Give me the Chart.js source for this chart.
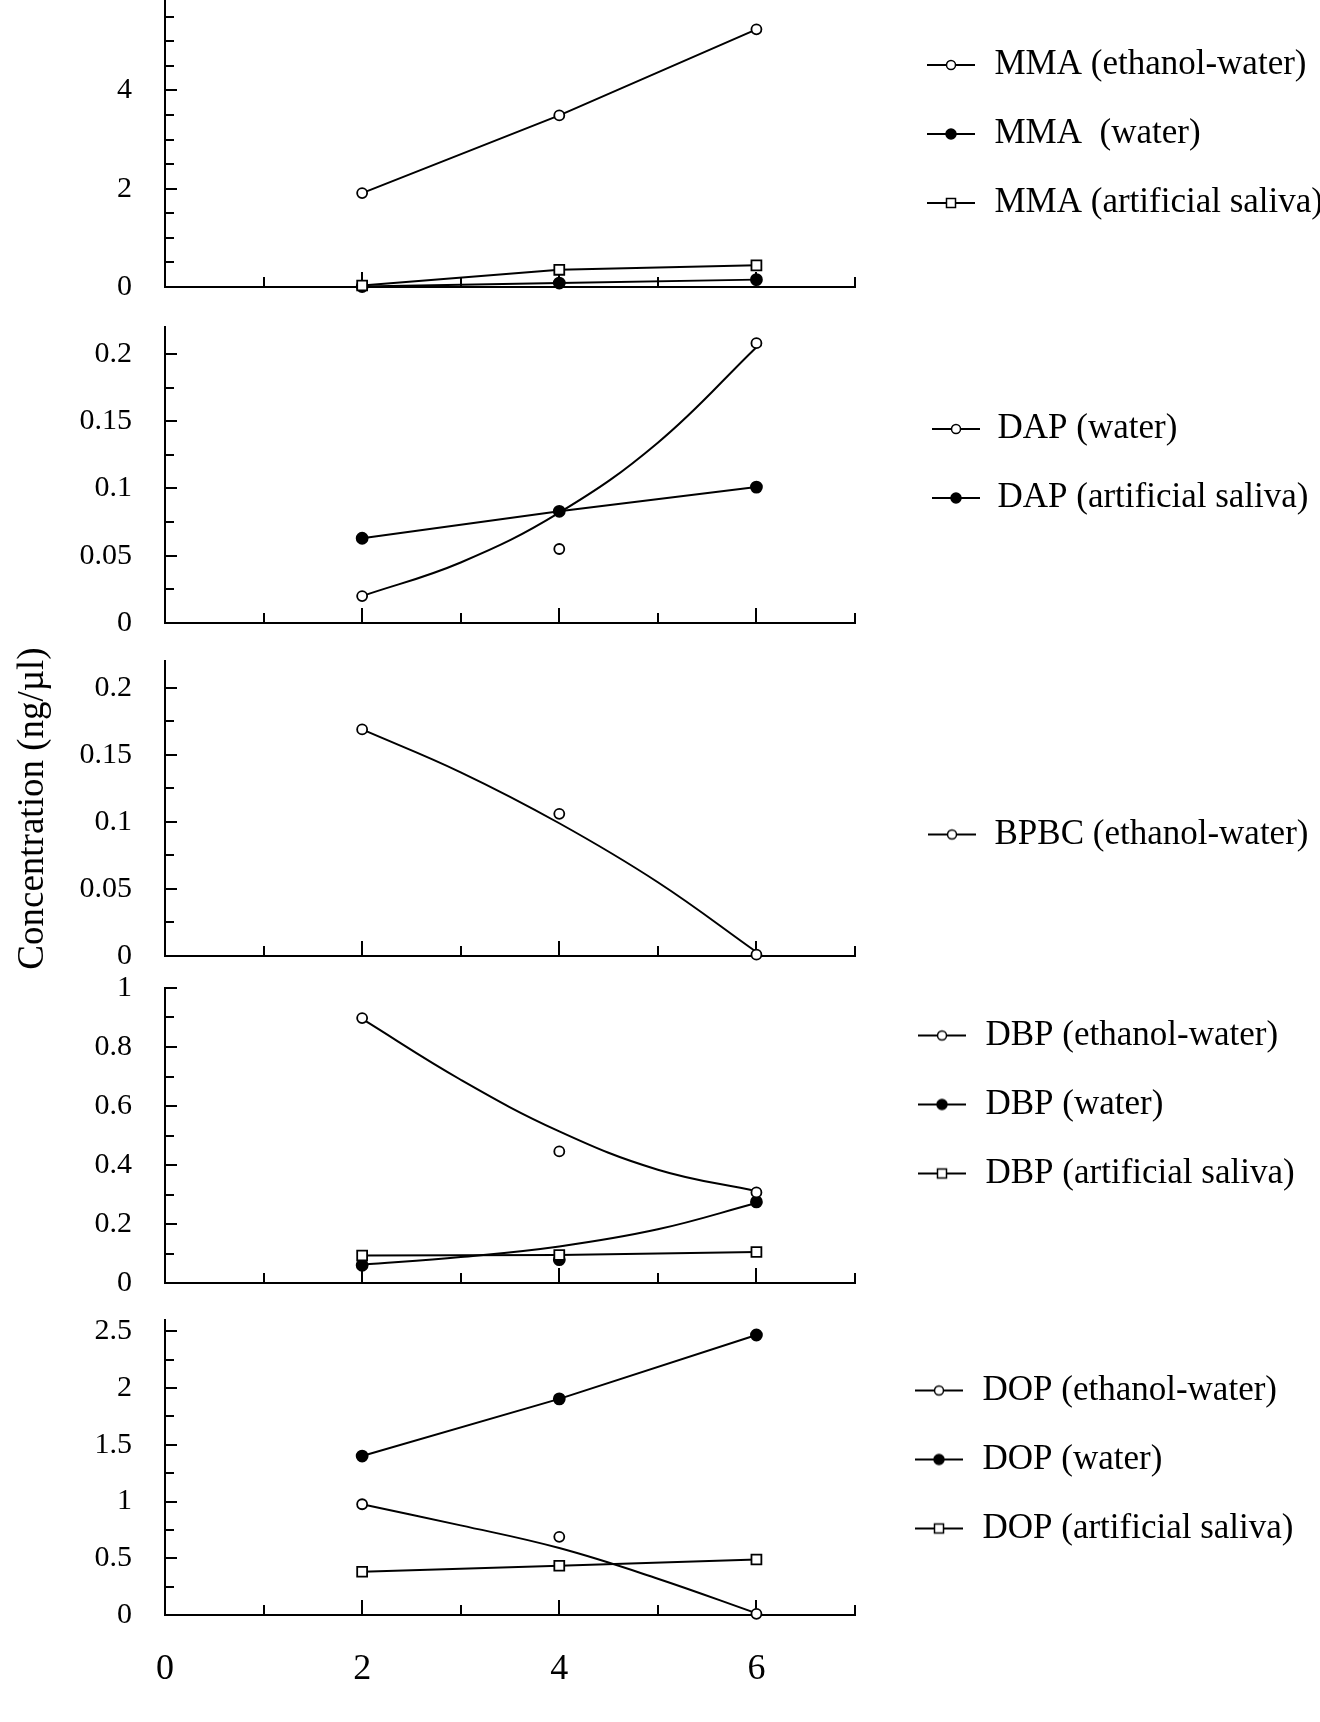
<!doctype html>
<html lang="en">
<head>
<meta charset="utf-8">
<script src="https://cdn.jsdelivr.net/npm/chart.js@4.4.1/dist/chart.umd.min.js"></script>
<style>
  html, body { margin: 0; padding: 0; background: #fff; }
  body { width: 1320px; height: 1722px; overflow: hidden; position: relative; }
  canvas { position: absolute; left: 0; }
</style>
</head>
<body>
<canvas id="mma"  width="1320" height="333" style="top:-26px"></canvas>
<canvas id="dap"  width="1320" height="334" style="top:309px"></canvas>
<canvas id="bpbc" width="1320" height="333" style="top:643px"></canvas>
<canvas id="dbp"  width="1320" height="333" style="top:970px"></canvas>
<canvas id="dop"  width="1320" height="393" style="top:1302px"></canvas>
<script>
const times = [2, 4, 6];
const trendTimes = [2, 3, 4, 5, 6];
const xLabelled = [0, 2, 4, 6];

// MMA
const mmaEthanolWater = [1.91, 3.49, 5.24];
const mmaWater = [0.01, 0.08, 0.15];
const mmaSaliva = [0.03, 0.35, 0.44];
const mmaTicks = [0, 2, 4, 6];

// DAP
const dapWater = [0.020, 0.055, 0.208];
const dapSaliva = [0.063, 0.083, 0.101];
const dapWaterTrend = [0.020, 0.045, 0.082, 0.134, 0.205];
const dapTicks = [0, 0.05, 0.1, 0.15, 0.2];

// BPBC
const bpbcEthanolWater = [0.169, 0.106, 0.001];
const bpbcTrend = [0.169, 0.137, 0.099, 0.055, 0.003];
const bpbcTicks = [0, 0.05, 0.1, 0.15, 0.2];

// DBP
const dbpEthanolWater = [0.898, 0.446, 0.307];
const dbpWater = [0.060, 0.079, 0.275];
const dbpSaliva = [0.093, 0.095, 0.105];
const dbpEthanolTrend = [0.895, 0.689, 0.514, 0.384, 0.311];
const dbpWaterTrend = [0.062, 0.088, 0.124, 0.182, 0.271];
const dbpTicks = [0, 0.2, 0.4, 0.6, 0.8, 1];

// DOP
const dopEthanolWater = [0.976, 0.689, 0.01];
const dopWater = [1.401, 1.905, 2.468];
const dopSaliva = [0.381, 0.434, 0.489];
const dopEthanolTrend = [0.976, 0.790, 0.590, 0.320, 0.015];
const dopTicks = [0, 0.5, 1, 1.5, 2, 2.5];

const serif = "'Liberation Serif', 'Times New Roman', serif";
Chart.defaults.font.family = serif;
Chart.defaults.color = '#000';

const legendFont = 35;
const legendGap = 34;
const legendBox = 465;   // room right of the plot area

const pts = (xs, ys) => xs.map((x, i) => ({ x: x, y: ys[i] }));

const marks = {
  open:   { pointStyle: 'circle', pointRadius: 5,   pointBackgroundColor: '#fff', order: 0 },
  square: { pointStyle: 'rect',   pointRadius: 7,   pointBackgroundColor: '#fff', order: 1 },
  filled: { pointStyle: 'circle', pointRadius: 5.5, pointBackgroundColor: '#000', order: 2 }
};

function series(label, values, symbol, showLine) {
  return Object.assign({
    label: label,
    symbol: symbol,
    data: pts(times, values),
    showLine: showLine !== false,
    borderColor: '#000',
    borderWidth: 2,
    pointBorderColor: '#000',
    pointBorderWidth: 1.8,
    clip: false
  }, marks[symbol]);
}

function trend(values) {
  return {
    label: '',
    trend: true,
    data: pts(trendTimes, values),
    borderColor: '#000',
    borderWidth: 2,
    pointRadius: 0,
    tension: 0.4,
    order: 3,
    clip: false
  };
}

// little "-o-" picture used as legend symbol
function legendSymbol(symbol, boxW, offset) {
  const c = document.createElement('canvas');
  c.width = boxW;
  c.height = 16;
  const g = c.getContext('2d');
  g.strokeStyle = '#000';
  g.lineWidth = 2;
  g.beginPath();
  g.moveTo(offset, 8);
  g.lineTo(offset + 48, 8);
  g.stroke();
  const cx = offset + 24;
  g.lineWidth = 1.5;
  g.beginPath();
  if (symbol === 'square') g.rect(cx - 4.5, 3.5, 9, 9);
  else g.arc(cx, 8, symbol === 'filled' ? 5 : 4.5, 0, Math.PI * 2);
  g.fillStyle = symbol === 'filled' ? '#000' : '#fff';
  g.fill();
  g.stroke();
  return c;
}

// ticks pointing inwards, longer where there is a label
const innerTicks = {
  id: 'innerTicks',
  beforeDatasetsDraw(chart) {
    const { ctx, chartArea, scales } = chart;
    const x = scales.x, y = scales.y;
    ctx.save();
    ctx.strokeStyle = '#000';
    ctx.lineWidth = 2;
    ctx.beginPath();
    y.ticks.forEach(t => {
      if (t.value === 0) return;
      const py = Math.round(y.getPixelForValue(t.value));
      const len = t.label !== '' ? 12 : 9;
      ctx.moveTo(chartArea.left, py);
      ctx.lineTo(chartArea.left + len, py);
    });
    x.ticks.forEach(t => {
      if (t.value === 0) return;
      const px = Math.round(x.getPixelForValue(t.value));
      const len = t.value % 2 === 0 ? 15 : 10;
      ctx.moveTo(px, chartArea.bottom);
      ctx.lineTo(px, chartArea.bottom - len);
    });
    ctx.stroke();
    ctx.restore();
  }
};

const panels = [
  { id: 'mma', yMax: 6, yStep: 0.5, yTicks: mmaTicks, padBottom: 20, legendTop: 39.5, boxW: 88, symX: 38,
    datasets: [
      series('MMA (ethanol-water)', mmaEthanolWater, 'open'),
      series('MMA  (water)', mmaWater, 'filled'),
      series('MMA (artificial saliva)', mmaSaliva, 'square')
    ] },
  { id: 'dap', yMax: 0.22, yStep: 0.025, yTicks: dapTicks, padBottom: 20, legendTop: 68.5, boxW: 91, symX: 43,
    datasets: [
      series('DAP (water)', dapWater, 'open', false),
      series('DAP (artificial saliva)', dapSaliva, 'filled'),
      trend(dapWaterTrend)
    ] },
  { id: 'bpbc', yMax: 0.22, yStep: 0.025, yTicks: bpbcTicks, padBottom: 20, legendTop: 140, boxW: 88, symX: 39,
    title: 'Concentration (ng/µl)',
    datasets: [
      series('BPBC (ethanol-water)', bpbcEthanolWater, 'open', false),
      trend(bpbcTrend)
    ] },
  { id: 'dbp', yMax: 1, yStep: 0.1, yTicks: dbpTicks, padBottom: 20, legendTop: 14, boxW: 79, symX: 29,
    datasets: [
      series('DBP (ethanol-water)', dbpEthanolWater, 'open', false),
      series('DBP (water)', dbpWater, 'filled', false),
      series('DBP (artificial saliva)', dbpSaliva, 'square'),
      trend(dbpEthanolTrend),
      trend(dbpWaterTrend)
    ] },
  { id: 'dop', yMax: 2.6, yStep: 0.25, yTicks: dopTicks, padBottom: 10, legendTop: 37, boxW: 76, symX: 26, last: true,
    datasets: [
      series('DOP (ethanol-water)', dopEthanolWater, 'open', false),
      series('DOP (water)', dopWater, 'filled'),
      series('DOP (artificial saliva)', dopSaliva, 'square'),
      trend(dopEthanolTrend)
    ] }
];

const fmt = v => String(+v.toFixed(3));

// natural width of a vertical legend, so the plot area always ends at the same x
const measure = document.createElement('canvas').getContext('2d');
measure.font = legendFont + 'px ' + serif;
function legendNatural(p) {
  const w = Math.max(...p.datasets.filter(d => !d.trend).map(d => measure.measureText(d.label).width));
  return legendGap + p.boxW + legendFont / 2 + w + 10;
}

panels.forEach(p => {
  const padRight = Math.max(0, legendBox - legendNatural(p));
  new Chart(document.getElementById(p.id), {
    type: 'line',
    data: { datasets: p.datasets },
    options: {
      responsive: false,
      animation: false,
      events: [],
      layout: { autoPadding: false, padding: { top: 0, bottom: p.padBottom, left: 0, right: padRight } },
      plugins: {
        tooltip: { enabled: false },
        legend: {
          position: 'right',
          align: 'start',
          maxWidth: legendBox,
          title: { display: true, text: '', font: { size: 1, lineHeight: 1 }, padding: { top: p.legendTop - 1, bottom: 0 } },
          labels: {
            usePointStyle: true,
            pointStyleWidth: p.boxW,
            padding: legendGap,
            color: '#000',
            font: { family: serif, size: legendFont },
            generateLabels: chart => chart.data.datasets
              .map((ds, i) => ({
                text: ds.label,
                datasetIndex: i,
                hidden: false,
                fontColor: '#000',
                fillStyle: '#fff',
                strokeStyle: '#000',
                lineWidth: 0,
                pointStyle: ds.trend ? 'line' : legendSymbol(ds.symbol, p.boxW, p.symX),
                trend: ds.trend
              }))
              .filter(item => !item.trend)
          }
        }
      },
      scales: {
        x: {
          type: 'linear',
          min: 0,
          max: 7,
          grid: { display: false, drawTicks: false },
          border: { display: true, color: '#000', width: 2 },
          ticks: {
            display: !!p.last,
            stepSize: 1,
            autoSkip: false,
            maxRotation: 0,
            padding: 33,
            color: '#000',
            font: { family: serif, size: 36 },
            callback: v => xLabelled.includes(v) ? String(v) : ''
          },
          afterFit: s => { s.height = p.last ? 70 : 0; }
        },
        y: {
          min: 0,
          max: p.yMax,
          grid: { display: false, drawTicks: true, tickLength: 33 },
          border: { display: true, color: '#000', width: 2 },
          ticks: {
            stepSize: p.yStep,
            autoSkip: false,
            includeBounds: false,
            padding: 0,
            color: '#000',
            font: { family: serif, size: 30 },
            callback: v => p.yTicks.some(l => Math.abs(l - v) < 1e-9) ? fmt(v) : ''
          },
          title: p.title ? {
            display: true,
            text: p.title,
            color: '#000',
            font: { family: serif, size: 37 },
            padding: { top: 11, bottom: 0 }
          } : { display: false },
          afterFit: s => { s.width = 165; }
        }
      }
    },
    plugins: [innerTicks]
  });
});
</script>
</body>
</html>
